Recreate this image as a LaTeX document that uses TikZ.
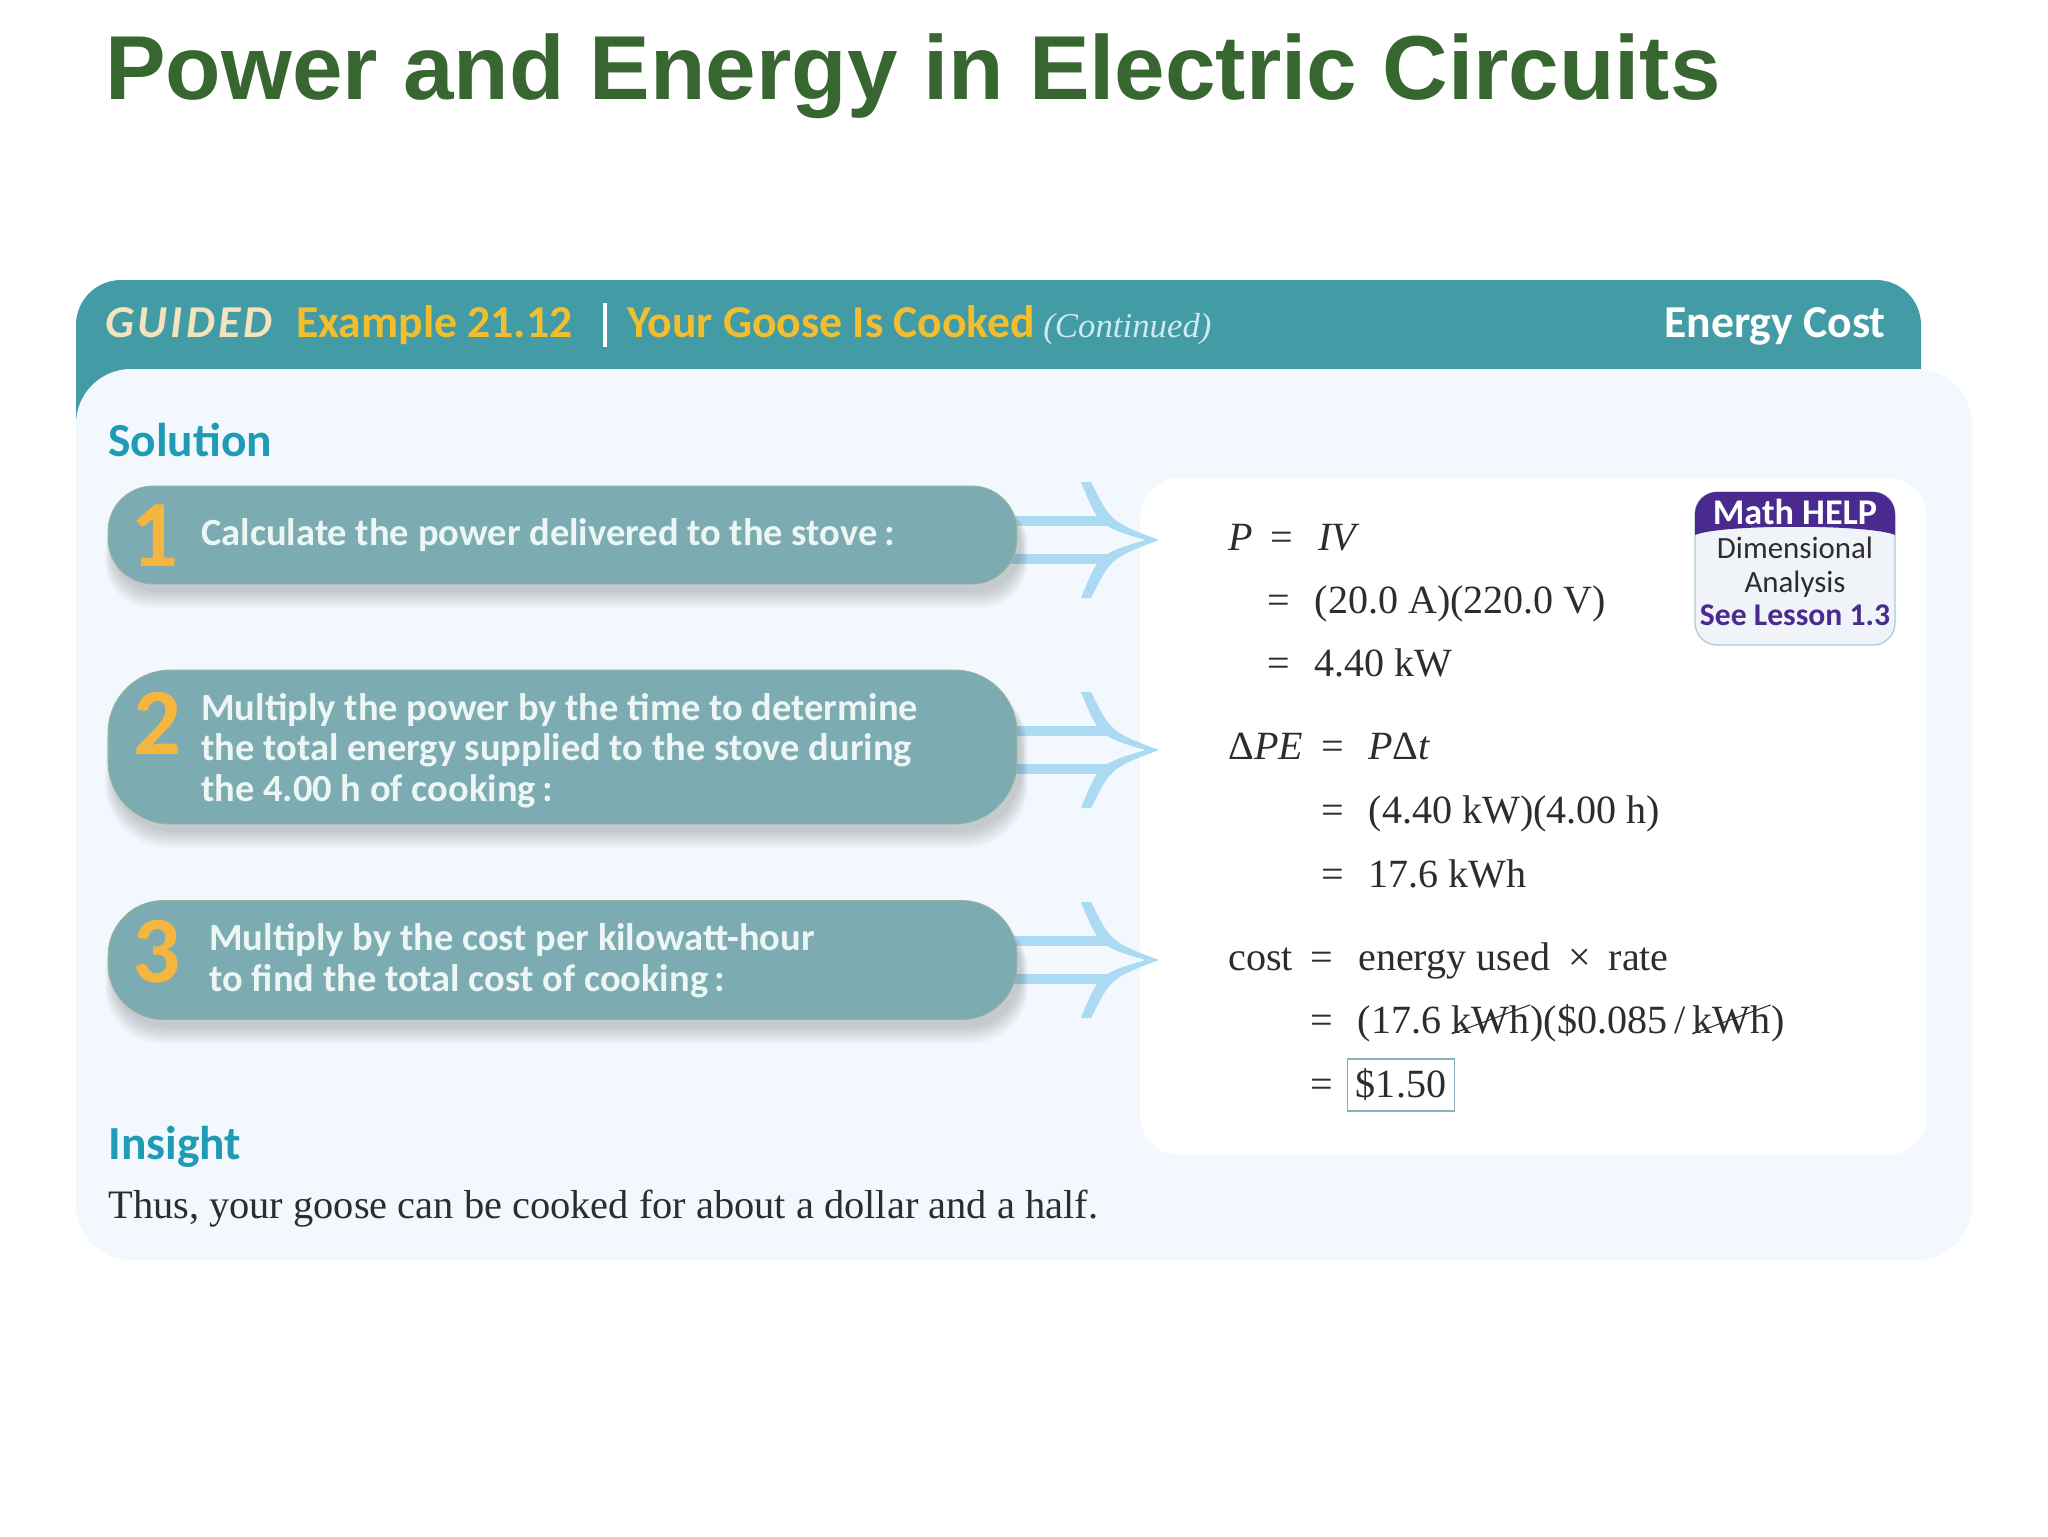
\documentclass[tikz,border=0pt]{standalone}
\usepackage{fontspec}
\setmainfont{Liberation Serif}
\newfontfamily\titlefont{Liberation Sans}
\newfontfamily\bookfont{Carlito}
\newfontfamily\guidedfont[LetterSpace=7]{Carlito}
\usetikzlibrary{positioning,backgrounds}
\definecolor{titleGreen}{RGB}{56, 102, 48}
\definecolor{headerTeal}{RGB}{66, 155, 165}
\definecolor{panelBlue}{RGB}{242, 248, 253}
\definecolor{pillTeal}{RGB}{125, 171, 178}
\definecolor{pillEdge}{RGB}{150, 180, 150}
\definecolor{arrowBlue}{RGB}{170, 219, 243}
\definecolor{numOrange}{RGB}{244, 182, 63}
\definecolor{headYellow}{RGB}{243, 190, 45}
\definecolor{headCream}{RGB}{243, 228, 190}
\definecolor{headPale}{RGB}{205, 235, 240}
\definecolor{sectionTeal}{RGB}{31, 155, 181}
\definecolor{stepWhite}{RGB}{236, 246, 244}
\definecolor{inkDark}{RGB}{45, 45, 45}
\definecolor{helpPurple}{RGB}{75, 42, 143}
\definecolor{helpEdge}{RGB}{175, 200, 210}
\definecolor{helpFill}{RGB}{240, 244, 248}
\definecolor{boxEdge}{RGB}{140, 175, 188}
\tikzset{
  headtext/.style={anchor=base west, inner sep=0pt, font=\bookfont\bfseries\fontsize{26}{26}\selectfont},
  steptext/.style={anchor=base west, inner sep=0pt, align=left, text=stepWhite, font=\bookfont\bfseries\fontsize{21.9}{23}\selectfont},
  stepnum/.style={anchor=base, inner sep=0pt, text=numOrange, font=\bookfont\bfseries\fontsize{54}{54}\selectfont},
  pill/.style={draw=pillEdge, line width=0.5pt, fill=pillTeal, minimum width=18.18cm},
  pillshadow/.style={fill=black, opacity=0.03},
  section/.style={anchor=base west, inner sep=0pt, text=sectionTeal, font=\bookfont\bfseries\fontsize{27}{27}\selectfont},
  eqtext/.style={anchor=base west, inner sep=0pt, text=inkDark, font=\fontsize{22.8}{22.8}\selectfont},
  struck/.style={draw=inkDark, line width=0.6pt},
  stemline/.style={draw=arrowBlue, line width=0.2cm, double=panelBlue, double distance=0.56cm},
  helptext/.style={anchor=base, inner sep=0pt, font=\bookfont\fontsize{17.6}{17.6}\selectfont, text=inkDark},
}
\newcommand{\eqgap}{\hspace{0.62em}}
\newcommand{\eqlead}{\hspace{0.45em}}
\begin{document}
\begin{tikzpicture}[x=0.02cm, y=-0.02cm]
\useasboundingbox (0,0) rectangle (2048,1536);
\node[anchor=base west, inner sep=0pt, text=titleGreen, font=\titlefont\bfseries\fontsize{51.7}{51.7}\selectfont] (title) at (105,99) {Power and Energy in Electric Circuits};

\node[pill, rounded corners=0.9cm, minimum height=1.96cm] (p1) at (562.5,535) {};
\node[pill, rounded corners=1.25cm, minimum height=3.08cm] (p2) at (562.5,747) {};
\node[pill, rounded corners=1.1cm, minimum height=2.38cm] (p3) at (562.5,960) {};

\begin{pgfonlayer}{background}
  \fill[headerTeal, rounded corners=0.9cm] (76,440) -- (76,280) -- (1921,280) [sharp corners] -- (1921,370) -- (140,370) -- (140,440) -- cycle;
  \fill[panelBlue, rounded corners=1.1cm] (76,369) rectangle (1972,1260);
  \fill[white, rounded corners=0.8cm] (1140,478) rectangle (1927,1155);
  \foreach \n/\ty in {1/540,2/750,3/960} {
    \coordinate (tip\n) at (1159,\ty);
    \coordinate (stop\n) at (1112,\ty);
    \draw[stemline] (p\n.center |- tip\n) -- (stop\n);
    \fill[arrowBlue] ([shift={(-68,-58)}]tip\n) .. controls ([shift={(-48,-18)}]tip\n) .. (tip\n) .. controls ([shift={(-48,18)}]tip\n) .. ([shift={(-68,58)}]tip\n) -- ([shift={(-78,58)}]tip\n) .. controls ([shift={(-60,14)}]tip\n) .. ([shift={(-14,0)}]tip\n) .. controls ([shift={(-60,-14)}]tip\n) .. ([shift={(-78,-58)}]tip\n) -- cycle;
  }
  \foreach \n/\r in {1/0.9,2/1.25,3/1.1}
    \foreach \g in {0,3,6,9,12,15}
      \fill[pillshadow, rounded corners=\r cm] ([shift={(-0.4*\g+4,8+\g)}]p\n.south west) rectangle ([shift={(0.4*\g+4,14)}]p\n.north east);
\end{pgfonlayer}

\node[headtext, text=headCream, font=\guidedfont\bfseries\itshape\fontsize{26}{26}\selectfont] (guided) at (105,337) {GUIDED};
\node[headtext, text=headYellow] (example) at (296,337) {Example 21.12};
\draw[white, line width=0.07cm] (605,303) -- (605,347);
\node[headtext, text=headYellow] (goose) at (627,337) {Your Goose Is Cooked};
\node[anchor=base west, inner sep=0pt, text=headPale, font=\itshape\fontsize{19.8}{19.8}\selectfont] (cont) at (1043,337) {(Continued)};
\node[headtext, text=white, anchor=base east] (cost) at (1886,337) {Energy Cost};

\node[section] (solution) at (108,456) {Solution};
\node[stepnum] (n1) at (155,566) {1};
\node[stepnum] (n2) at (158,754) {2};
\node[stepnum] (n3) at (157,982) {3};
\node[steptext] (s1) at (201,545) {Calculate the power delivered to the stove\,:};
\node[steptext] (s2) at (201,801) {Multiply the power by the time to determine\\the total energy supplied to the stove during\\the 4.00 h of cooking\,:};
\node[steptext] (s3) at (209,991) {Multiply by the cost per kilowatt-hour\\to find the total cost of cooking\,:};

\node[eqtext] (e1) at (1228,550) {\textit{P}\eqlead=\eqgap\textit{IV}};
\node[eqtext] (e2) at (1267,613) {=\eqgap(20.0 A)(220.0 V)};
\node[eqtext] (e3) at (1267,676) {=\eqgap4.40 kW};
\node[eqtext] (e4) at (1228,759) {Δ\textit{PE}\eqlead=\eqgap\textit{P}Δ\textit{t}};
\node[eqtext] (e5) at (1321,823) {=\eqgap(4.40 kW)(4.00 h)};
\node[eqtext] (e6) at (1321,887) {=\eqgap17.6 kWh};
\node[eqtext] (e7) at (1228,970) {cost\eqlead=\eqgap energy used\eqlead×\eqlead rate};
\node[eqtext] (e8) at (1310,1033) {=\eqgap(17.6\ \mbox{}};
\node[eqtext] (kwh1) at (e8.base east) {kWh};
\node[eqtext] (e9) at (kwh1.base east) {)(\$0.085\,/\,\mbox{}};
\node[eqtext] (kwh2) at (e9.base east) {kWh};
\node[eqtext] (e10) at (kwh2.base east) {)};
\draw[struck] (kwh1.south west) -- (kwh1.north east);
\draw[struck] (kwh2.south west) -- (kwh2.north east);
\node[eqtext] (e11) at (1310,1097) {=};
\node[draw=boxEdge, line width=0.8pt, inner sep=0pt, minimum width=2.14cm, minimum height=1.04cm, text=inkDark, font=\fontsize{22.8}{22.8}\selectfont] (total) at (1401,1085) {\$1.50};

\node[draw=helpEdge, fill=helpFill, line width=0.7pt, rounded corners=0.44cm, minimum width=4cm, minimum height=3.06cm] (help) at (1795,568.5) {};
\fill[helpPurple, rounded corners=0.44cm] (1695,535) -- (1695,492) -- (1895,492) [sharp corners] -- (1895,535) .. controls (1870,524) and (1720,524) .. (1695,535);
\node[helptext, text=white, font=\bookfont\bfseries\fontsize{20.6}{20.6}\selectfont] (h1) at (1795,524) {Math HELP};
\node[helptext] (h2) at (1795,558) {Dimensional};
\node[helptext] (h3) at (1795,592) {Analysis};
\node[helptext, text=helpPurple, font=\bookfont\bfseries\fontsize{18}{18}\selectfont] (h4) at (1795,625) {See Lesson 1.3};

\node[section] (insight) at (108,1159) {Insight};
\node[eqtext, font=\fontsize{23}{23}\selectfont] (thus) at (108,1218) {Thus, your goose can be cooked for about a dollar and a half.};
\end{tikzpicture}
\end{document}
